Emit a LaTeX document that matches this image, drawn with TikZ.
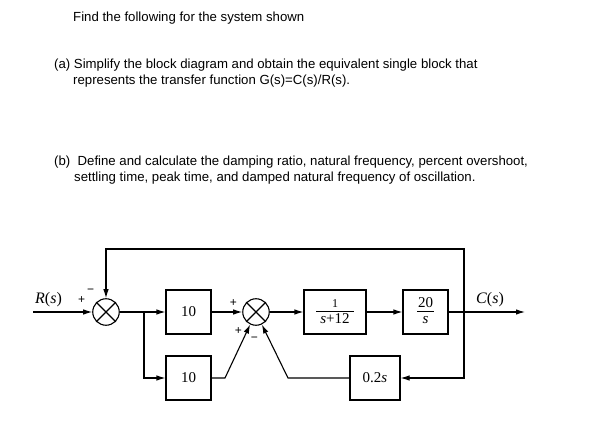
\documentclass[tikz,border=0pt]{standalone}
\usepackage{fontspec}
\setmainfont{Liberation Serif}
\newfontfamily\qfont{Liberation Sans}
\usetikzlibrary{arrows.meta}
\newcommand\myfr[3]{\begin{tabular}{@{\hspace{#1}}c@{\hspace{#1}}}#2\\[-2pt]\hline\rule{0pt}{12pt}#3\end{tabular}}
\begin{document}
\begin{tikzpicture}[x=1pt,y=-1pt,
  q/.style={anchor=base west,inner sep=0pt,font=\qfont\fontsize{13.2}{15}\selectfont},
  blk/.style={draw,line width=1.1pt,minimum width=45pt,minimum height=44pt,inner sep=0pt,font=\fontsize{15}{17}\selectfont},
  sj/.style={draw,circle,line width=1.1pt,minimum size=26.5pt,inner sep=0pt},
  sig/.style={inner sep=0pt,font=\qfont\fontsize{12}{13}\selectfont},
  lbl/.style={inner sep=0pt,anchor=base,font=\fontsize{16}{18}\selectfont},
  w/.style={line width=1.1pt},
  ar/.style={w,-{Latex[length=9pt,width=5.5pt]}}]
\useasboundingbox (0,0) rectangle (597,422);
\fill[white] (0,0) rectangle (597,422);
% question text
\node[q] (t1) at (73,21.5) {Find the following for the system shown};
\node[q] (a1) at (54,68.5) {(a) Simplify the block diagram and obtain the equivalent single block that};
\node[q] (a2) at (73,84.5) {represents the transfer function G(s)=C(s)/R(s).};
\node[q] (b1) at (54,166) {(b)\ \ Define and calculate the damping ratio, natural frequency, percent overshoot,};
\node[q] (b2) at (74,182) {settling time, peak time, and damped natural frequency of oscillation.};
% diagram
\node[sj] (j1) at (106,312) {};
\node[sj] (j2) at (256,312) {};
\foreach \j in {j1,j2}{
  \draw[w] (\j.45) -- (\j.225);
  \draw[w] (\j.135) -- (\j.-45);
}
\node[blk] (g1) at (188.5,312) {10};
\node[blk] (g2) at (188.5,378) {10};
\node[blk,minimum width=62pt] (g3) at (335,312) {\myfr{4pt}{\fontsize{12}{13}\selectfont 1}{\textit{s}+12}};
\node[blk] (g4) at (425.5,312) {\myfr{1pt}{20}{\textit{s}}};
\node[blk,minimum width=50pt] (g5) at (375,378) {0.2\textit{s}};
\coordinate (in) at (33,312);
\coordinate (out) at (525,312);
\coordinate (p1) at (144,312);
\coordinate (p1d) at (144,378);
\coordinate (p2) at (464,312);
\coordinate (p2t) at (464,249);
\coordinate (p1t) at (106,249);
\coordinate (p2d) at (464,378);
\coordinate (k1) at (225,378);
\coordinate (k2) at (288,378);
\node[lbl] (rs) at (48.5,303) {\textit{R}(\textit{s})};
\node[lbl] (cs) at (490,303) {\textit{C}(\textit{s})};
\draw[ar] (in) -- (j1);
\draw[ar] (p2) -- (p2t) -- (p1t) -- (j1);
\draw[w] (j1) -- (p1);
\draw[ar] (p1) -- (g1);
\draw[ar] (p1) -- (p1d) -- (g2);
\draw[ar] (g1) -- (j2);
\draw[ar] (g2) -- (k1) -- (j2.245);
\draw[ar] (j2) -- (g3);
\draw[ar] (g3) -- (g4);
\draw[ar] (g4) -- (out);
\draw[ar] (p2) -- (p2d) -- (g5);
\draw[ar] (g5) -- (k2) -- (j2.295);
\node[sig] (s1) at (81.7,300) {+};
\node[sig] (s2) at (90.7,291) {−};
\node[sig] (s3) at (233.3,303) {+};
\node[sig] (s4) at (238.3,331) {+};
\node[sig] (s5) at (254.3,339) {−};
\end{tikzpicture}
\end{document}
